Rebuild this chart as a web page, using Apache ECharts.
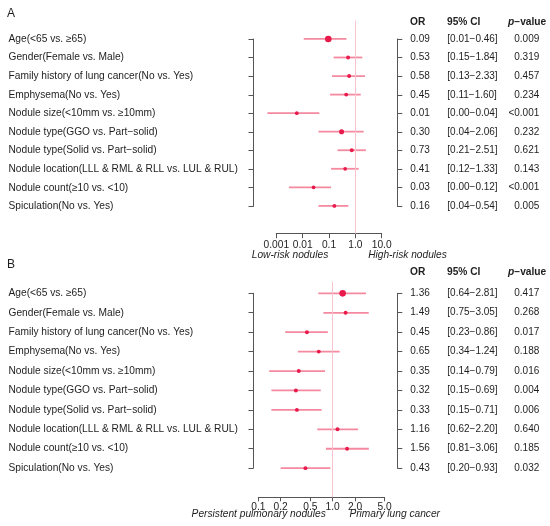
<!DOCTYPE html>
<html><head><meta charset="utf-8">
<script src="https://cdn.jsdelivr.net/npm/echarts@6/dist/echarts.min.js"></script>
<style>html,body{margin:0;padding:0;background:#fff}#c{width:550px;height:526px}</style>
</head><body><div id="c"></div>
<script>
// ---------- shared categories ----------
const categories = [
  'Age(<65 vs. ≥65)',
  'Gender(Female vs. Male)',
  'Family history of lung cancer(No vs. Yes)',
  'Emphysema(No vs. Yes)',
  'Nodule size(<10mm vs. ≥10mm)',
  'Nodule type(GGO vs. Part−solid)',
  'Nodule type(Solid vs. Part−solid)',
  'Nodule location(LLL & RML & RLL vs. LUL & RUL)',
  'Nodule count(≥10 vs. <10)',
  'Spiculation(No vs. Yes)'
];

// ---------- panel A ----------
const orA = [0.094, 0.53, 0.58, 0.45, 0.006, 0.30, 0.73, 0.41, 0.026, 0.16];
const loA = [0.011, 0.15, 0.13, 0.11, 0.00046, 0.04, 0.21, 0.12, 0.003, 0.04];
const hiA = [0.46, 1.84, 2.33, 1.60, 0.043, 2.06, 2.51, 1.33, 0.12, 0.54];
const weightA = [1.7, 1, 1, 1, 0.95, 1.3, 1, 0.95, 0.95, 1];
const orTextA = ['0.09','0.53','0.58','0.45','0.01','0.30','0.73','0.41','0.03','0.16'];
const ciTextA = ['[0.01−0.46]','[0.15−1.84]','[0.13−2.33]','[0.11−1.60]','[0.00−0.04]','[0.04−2.06]','[0.21−2.51]','[0.12−1.33]','[0.00−0.12]','[0.04−0.54]'];
const pTextA = ['0.009','0.319','0.457','0.234','<0.001','0.232','0.621','0.143','<0.001','0.005'];
const ticksA = [0.001, 0.01, 0.1, 1, 10];
const tickLabelsA = ['0.001','0.01','0.1','1.0','10.0'];

// ---------- panel B ----------
const orB = [1.36, 1.49, 0.45, 0.65, 0.35, 0.32, 0.33, 1.16, 1.56, 0.43];
const loB = [0.64, 0.75, 0.23, 0.34, 0.14, 0.15, 0.15, 0.62, 0.81, 0.20];
const hiB = [2.81, 3.05, 0.86, 1.24, 0.79, 0.69, 0.71, 2.20, 3.06, 0.93];
const weightB = [1.7, 1, 1, 1, 1, 1, 1, 1, 1, 1];
const orTextB = ['1.36','1.49','0.45','0.65','0.35','0.32','0.33','1.16','1.56','0.43'];
const ciTextB = ['[0.64−2.81]','[0.75−3.05]','[0.23−0.86]','[0.34−1.24]','[0.14−0.79]','[0.15−0.69]','[0.15−0.71]','[0.62−2.20]','[0.81−3.06]','[0.20−0.93]'];
const pTextB = ['0.417','0.268','0.017','0.188','0.016','0.004','0.006','0.640','0.185','0.032'];
const ticksB = [0.1, 0.2, 0.5, 1, 2, 5];
const tickLabelsB = ['0.1','0.2','0.5','1.0','2.0','5.0'];

const headers = ['OR', '95% CI', 'p−value'];
const axisTitlesA = ['Low-risk nodules', 'High-risk nodules'];
const axisTitlesB = ['Persistent pulmonary nodules', 'Primary lung cancer'];

// ---------- styling ----------
const FONT = '"Liberation Sans", Arial, Helvetica, sans-serif';
const FS = 10.2;
const TXT = '#1e1e1e';
const AXC = '#555';
const DOT = '#e8194b';
const CI = '#f4899f';
const REF = '#f9c2cd';

const chart = echarts.init(document.getElementById('c'), null, {renderer: 'canvas'});

function fmtTick(ticks, labels) {
  return function (v) {
    for (let i = 0; i < ticks.length; i++) {
      if (Math.abs(Math.log10(v) - Math.log10(ticks[i])) < 1e-6) return labels[i];
    }
    return '';
  };
}

function panel(p) {
  const xAxes = [
    {
      gridIndex: p.gi, type: 'log', logBase: 10, min: p.ticks[0], max: p.ticks[p.ticks.length - 1],
      position: 'bottom',
      axisLine: {show: true, onZero: false, lineStyle: {color: AXC, width: 1}},
      axisTick: {show: true, length: p.tickLen, customValues: p.ticks, lineStyle: {color: AXC}},
      axisLabel: {show: true, customValues: p.ticks, formatter: fmtTick(p.ticks, p.tickLabels),
        margin: p.labelMargin, fontSize: FS, color: TXT, fontFamily: FONT},
      splitLine: {show: false}, minorTick: {show: false}, minorSplitLine: {show: false}
    },
    {gridIndex: p.bi, type: 'value', show: false}
  ];
  const yAxes = [
    {gridIndex: p.gi, type: 'value', min: p.yMin, max: 11.5, inverse: true, show: false},
    {
      gridIndex: p.bi, type: 'category', data: categories, inverse: true, boundaryGap: false, position: 'left',
      axisLine: {show: true, onZero: false, lineStyle: {color: AXC}},
      axisTick: {show: true, length: 5, lineStyle: {color: AXC}},
      axisLabel: {interval: 0, align: 'left', margin: 245, fontSize: FS, color: TXT, fontFamily: FONT},
      splitLine: {show: false}
    },
    {
      gridIndex: p.bi, type: 'category', data: categories, inverse: true, boundaryGap: false, position: 'right',
      axisLine: {show: true, onZero: false, lineStyle: {color: AXC}},
      axisTick: {show: true, length: 5, lineStyle: {color: AXC}},
      axisLabel: {
        interval: 0, align: 'left', margin: 13, fontSize: FS - 0.2, color: TXT, fontFamily: FONT,
        formatter: (v, i) => '{a|' + p.orText[i] + '}{b|' + p.ciText[i] + '}{c|' + p.pText[i] + '}',
        rich: {
          a: {width: 37, fontSize: FS - 0.2, color: TXT, fontFamily: FONT},
          b: {width: 62, fontSize: FS - 0.2, color: TXT, fontFamily: FONT},
          c: {width: 30, align: 'right', fontSize: FS - 0.2, color: TXT, fontFamily: FONT}
        }
      },
      splitLine: {show: false}
    }
  ];
  return {xAxes, yAxes};
}

const pA = {gi: 0, bi: 1, ticks: ticksA, tickLabels: tickLabelsA, yMin: 0, tickLen: 4.5, labelMargin: 6,
  orText: orTextA, ciText: ciTextA, pText: pTextA};
const pB = {gi: 2, bi: 3, ticks: ticksB, tickLabels: tickLabelsB, yMin: 0.4, tickLen: 4, labelMargin: 4.5,
  orText: orTextB, ciText: ciTextB, pText: pTextB};
const axA = panel(pA), axB = panel(pB);

function seriesFor(xi, yi, lo, hi, or, w) {
  return [
    {
      type: 'line', xAxisIndex: xi, yAxisIndex: yi, data: [], z: 1, silent: true,
      markLine: {silent: true, symbol: 'none', label: {show: false},
        lineStyle: {color: REF, width: 1, type: 'solid'}, data: [{xAxis: 1}]}
    },
    {
      type: 'custom', xAxisIndex: xi, yAxisIndex: yi, clip: false, silent: true, z: 2,
      data: lo.map((l, i) => [l, hi[i], i + 1]),
      encode: {x: [0, 1], y: 2},
      renderItem: function (params, api) {
        const a = api.coord([api.value(0), api.value(2)]);
        const b = api.coord([api.value(1), api.value(2)]);
        return {type: 'line', shape: {x1: a[0], y1: a[1], x2: b[0], y2: b[1]},
          style: {stroke: CI, lineWidth: 1.8}};
      }
    },
    {
      type: 'scatter', xAxisIndex: xi, yAxisIndex: yi, clip: false, silent: true, z: 3,
      data: or.map((v, i) => [v, i + 1, w[i]]),
      symbolSize: d => 3.9 * d[2],
      itemStyle: {color: DOT, opacity: 1}
    }
  ];
}

function txt(text, x, y, opts) {
  return {type: 'text', x: x, y: y, silent: true,
    style: Object.assign({text: text, fill: TXT, font: FS + 'px ' + FONT,
      textAlign: 'left', textVerticalAlign: 'middle'}, opts || {})};
}
function header(y) {
  return [
    txt(headers[0], 410, y, {font: 'bold ' + FS + 'px ' + FONT}),
    txt(headers[1], 447, y, {font: 'bold ' + FS + 'px ' + FONT}),
    {type: 'text', x: 508, y: y, silent: true, style: {
      text: '{i|' + headers[2].slice(0, 1) + '}{b|' + headers[2].slice(1) + '}',
      textVerticalAlign: 'middle', fill: TXT,
      rich: {
        i: {fontStyle: 'italic', fontWeight: 'bold', fontSize: FS, fontFamily: FONT, fill: TXT},
        b: {fontWeight: 'bold', fontSize: FS, fontFamily: FONT, fill: TXT}
      }}}
  ];
}
const italic = {font: 'italic ' + FS + 'px ' + FONT, textAlign: 'center'};

const option = {
  backgroundColor: '#fff',
  animation: false,
  grid: [
    {left: 276.3, right: 550 - 381.7, top: 20.4, height: 213.3, outerBoundsMode: 'none', containLabel: false},
    {left: 253.5, right: 550 - 397.3, top: 39, height: 167.3, outerBoundsMode: 'none', containLabel: false},
    {left: 258.3, right: 550 - 384.7, top: 281.7, height: 215.6, outerBoundsMode: 'none', containLabel: false},
    {left: 253.5, right: 550 - 397.3, top: 293.3, height: 174.7, outerBoundsMode: 'none', containLabel: false}
  ],
  xAxis: axA.xAxes.concat(axB.xAxes),
  yAxis: [axA.yAxes[0], axA.yAxes[1], axA.yAxes[2], axB.yAxes[0], axB.yAxes[1], axB.yAxes[2]],
  series: [].concat(
    seriesFor(0, 0, loA, hiA, orA, weightA),
    seriesFor(2, 3, loB, hiB, orB, weightB)
  ),
  graphic: [].concat(
    [txt('A', 7, 14, {font: '12px ' + FONT}), txt('B', 7, 264.5, {font: '12px ' + FONT})],
    header(21.7), header(272.3),
    [txt(axisTitlesA[0], 290, 255, italic), txt(axisTitlesA[1], 407.5, 255, italic),
     txt(axisTitlesB[0], 258.7, 514.3, italic), txt(axisTitlesB[1], 394.7, 514.3, italic)]
  )
};
chart.setOption(option);
</script></body></html>
